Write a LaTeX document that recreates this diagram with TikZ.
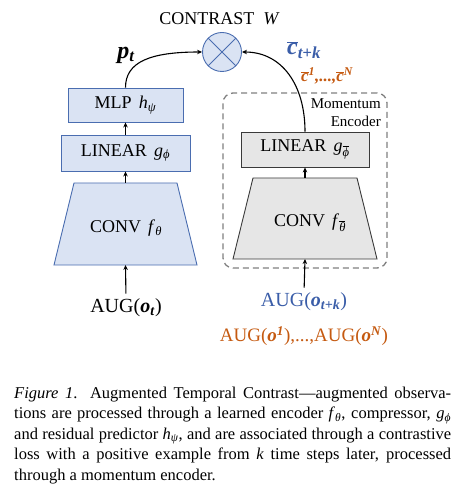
\documentclass[tikz,border=0pt]{standalone}
\usepackage{fontspec}
\setmainfont{Liberation Serif}
\usetikzlibrary{arrows.meta}
\definecolor{bfill}{HTML}{DAE3F3}
\definecolor{bdraw}{HTML}{4A6DB0}
\definecolor{btext}{HTML}{3A5DA8}
\definecolor{otext}{HTML}{C55A11}
\definecolor{gfill}{HTML}{E6E6E6}
\definecolor{gdraw}{HTML}{3A3A3A}
\definecolor{dashc}{HTML}{7F7F7F}
\newcommand\myit[1]{\textit{#1}}
\newcommand\mysub[1]{\textsubscript{#1}}
\newcommand\mysup[1]{\textsuperscript{#1}}
\newcommand\mybar[1]{$\overline{\hbox{#1}}$}
\begin{document}
\begin{tikzpicture}[x=1pt,y=-1pt,
  lbl/.style={font=\fontsize{18}{20}\selectfont, inner sep=0pt},
  bluebox/.style={draw=bdraw, fill=bfill, line width=0.9pt, inner sep=0pt, lbl},
  graybox/.style={draw=gdraw, fill=gfill, line width=0.9pt, inner sep=0pt, lbl},
  arr/.style={-{Stealth[length=5pt,width=4.5pt]}, line width=1.1pt},
]
\useasboundingbox (0,0) rectangle (458,486);

% title and contrast circle
\node[lbl] (ctitle) at (219.5,19) {CONTRAST\hspace{0.5em}\myit{W}};
\node[circle, draw=bdraw, fill=bfill, line width=0.9pt, minimum size=39pt, inner sep=0pt] (ctr) at (222,52) {};
\draw[bdraw, line width=0.9pt] (ctr.north west) -- (ctr.south east);
\draw[bdraw, line width=0.9pt] (ctr.north east) -- (ctr.south west);

% left branch
\node[bluebox, minimum width=115pt, minimum height=34pt] (mlp) at (125.5,105) {MLP\hspace{0.4em}\myit{h}\mysub{\myit{ψ}}};
\node[bluebox, minimum width=129pt, minimum height=36pt] (linl) at (125.5,153) {LINEAR\hspace{0.4em}\myit{g}\mysub{\myit{ϕ}}};
\draw[draw=bdraw, fill=bfill, line width=0.9pt] (74,183) -- (177,183) -- (197,265) -- (54,265) -- cycle;
\coordinate (convltop) at (125.5,183);
\coordinate (convlbot) at (125.5,265);
\node[lbl] (convl) at (126,228) {CONV\hspace{0.4em}\myit{f}\mysub{\myit{θ}}};
\node[lbl, font=\fontsize{20}{22}\selectfont] (augl) at (126,308) {AUG(\textbf{\textit{o}}\mysub{\textbf{\textit{t}}})};
\node[font=\fontsize{24}{26}\selectfont\bfseries\itshape, inner sep=0pt] (pt) at (126,55) {p\mysub{t}};

% momentum encoder
\node[draw=dashc, dash pattern=on 6pt off 4pt, line width=1.3pt, rounded corners=10pt, minimum width=164pt, minimum height=175pt, inner sep=0pt] (menc) at (305,180.5) {};
\node[font=\fontsize{15}{18}\selectfont, align=right, inner sep=0pt, anchor=east] (mtext) at (381,113) {Momentum\\Encoder};
\node[graybox, minimum width=128pt, minimum height=35pt] (linr) at (305,149.5) {LINEAR\hspace{0.4em}\myit{g}\mysub{\mybar{\myit{ϕ}}}};
\draw[draw=gdraw, fill=gfill, line width=0.9pt] (253,178) -- (357,178) -- (377,259) -- (233,259) -- cycle;
\coordinate (convrtop) at (305,178);
\coordinate (convrbot) at (305,259);
\node[lbl] (convr) at (310,223) {CONV\hspace{0.4em}\myit{f}\mysub{\mybar{\myit{θ}}}};
\node[lbl, font=\fontsize{20}{22}\selectfont, text=btext] (augr) at (304,302) {AUG(\textbf{\textit{o}}\mysub{\textbf{\textit{t+k}}})};
\node[lbl, font=\fontsize{19}{21}\selectfont, text=otext] (augn) at (304,336) {AUG(\textbf{\textit{o}}\mysup{\textbf{\textit{1}}}),...,AUG(\textbf{\textit{o}}\mysup{\textbf{\textit{N}}})};
\node[font=\fontsize{24}{26}\selectfont\bfseries\itshape, text=btext, inner sep=0pt] (cpos) at (304,50) {\mybar{c}\mysub{t+k}};
\node[font=\fontsize{17}{19}\selectfont\bfseries\itshape, text=otext, inner sep=0pt] (cneg) at (327,76) {\mybar{c}\mysup{1},...,\mybar{c}\mysup{N}};

% connectors
\draw[arr] (linl.north) -- (mlp.south);
\draw[arr] (convltop) -- (linl.south);
\draw[arr, shorten <=5pt] (augl.north) -- (convlbot);
\draw[arr] (convrtop) -- (linr.south);
\draw[arr, shorten <=5pt] (augr.north) -- (convrbot);
\draw[arr] (mlp.north) .. controls (125.5,62) and (150,52) .. (ctr.west);
\draw[arr] (linr.north) .. controls (305,85) and (282,52) .. (ctr.east);

% caption
\node[anchor=base west, inner sep=0pt, text width=437pt, align=justify, font=\fontsize{16.5}{20.5}\selectfont] (cap) at (14,398) {\textit{Figure 1}. Augmented Temporal Contrast—augmented observa-\linebreak tions are processed through a learned encoder \myit{f}\mysub{\myit{θ}}, compressor, \myit{g}\mysub{\myit{ϕ}}\linebreak and residual predictor \myit{h}\mysub{\myit{ψ}}, and are associated through a contrastive\linebreak loss with a positive example from \myit{k} time steps later, processed\linebreak through a momentum encoder.};
\end{tikzpicture}
\end{document}
